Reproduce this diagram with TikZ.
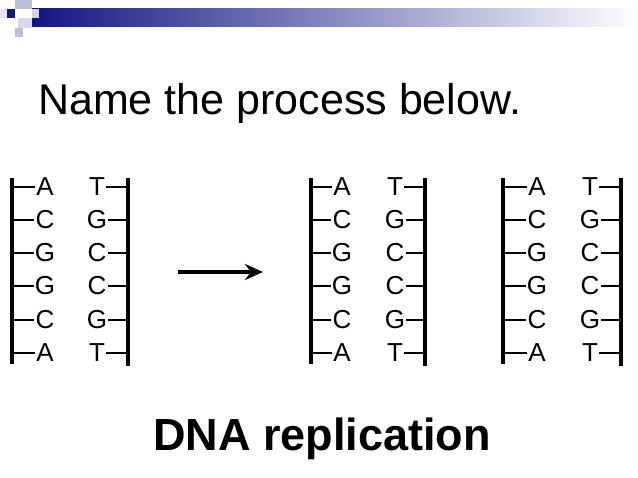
\documentclass[tikz,border=0pt]{standalone}
\usepackage{fontspec}
\setmainfont{Liberation Sans}
\usetikzlibrary{arrows.meta}
\begin{document}
\begin{tikzpicture}[x=1pt,y=-1pt,
  strand/.style={line width=3.4pt},
  rung/.style={line width=1.8pt},
  base/.style={font=\fontsize{26}{26}\selectfont, inner sep=1pt},
  sq/.style={inner sep=0pt}]
\useasboundingbox (0,0) rectangle (638,478);
\definecolor{navy}{RGB}{20,20,130}
\definecolor{lav}{RGB}{190,190,220}
% header decoration
\shade[left color=navy, right color=white] (32,9) rectangle (638,27);
\fill[lav] (15,0) rectangle (32,9);
\fill[lav!70] (32,9) rectangle (39,18);
\fill[lav!60] (18,18) rectangle (32,28);
\fill[lav] (15,28) rectangle (23,37);
\fill[lav!40] (0,9) rectangle (7,18);
\fill[navy] (7,9) rectangle (15,18);
\node[anchor=base west, font=\fontsize{43}{43}\selectfont, inner sep=0pt] (title) at (38,115) {Name the process below.};
\node[anchor=base, font=\bfseries\fontsize{45}{45}\selectfont, inner sep=0pt] (ans) at (322,451) {DNA replication};
% ladders
\foreach \n/\xl/\xa/\xb/\xr in {L/12/45/97/128, M/311/342/395/425, R/503/537/590/621}{
  \coordinate (\n-t1) at (\xl,178); \coordinate (\n-b1) at (\xl,364);
  \coordinate (\n-t2) at (\xr,178); \coordinate (\n-b2) at (\xr,366);
  \draw[strand] (\n-t1) -- (\n-b1);
  \draw[strand] (\n-t2) -- (\n-b2);
  \foreach \a/\b/\y [count=\i] in {A/T/187, C/G/220, G/C/253, G/C/286, C/G/320, A/T/353}{
    \node[base] (\n-a\i) at (\xa,\y) {\a};
    \node[base] (\n-b\i) at (\xb,\y) {\b};
    \coordinate (\n-la\i) at (\xl,\y); \coordinate (\n-rb\i) at (\xr,\y);
    \draw[rung] (\n-la\i) -- (\n-a\i.west);
    \draw[rung] (\n-b\i.east) -- (\n-rb\i);
  }
}
\coordinate (a1) at (178,272); \coordinate (a2) at (263,272);
\draw[line width=3.5pt, -{Stealth[length=18pt,width=16pt]}] (a1) -- (a2);
\end{tikzpicture}
\end{document}
